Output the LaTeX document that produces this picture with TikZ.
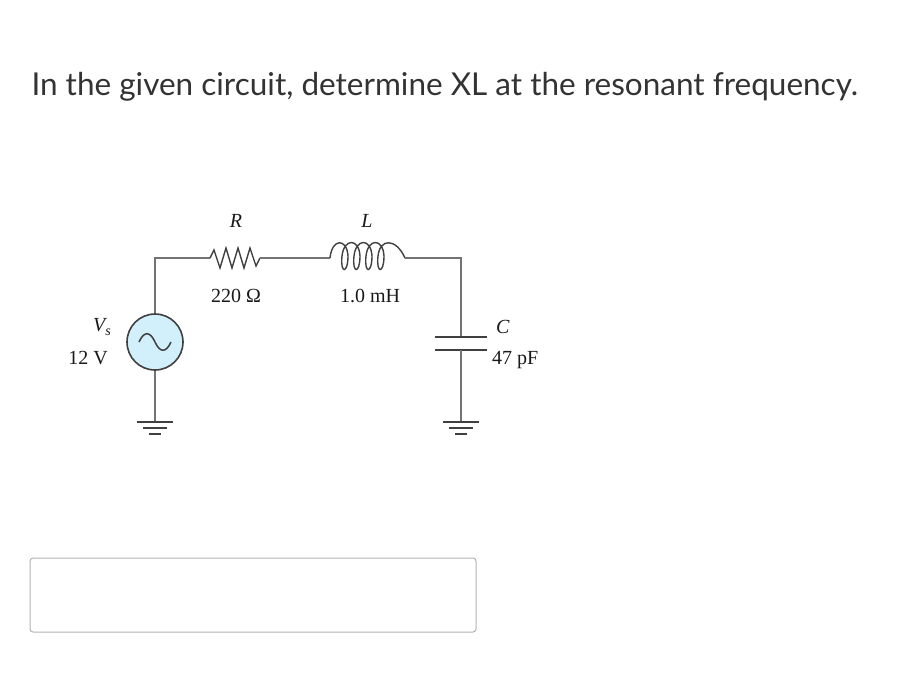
\documentclass[tikz,border=0pt]{standalone}
\usepackage{fontspec}
\setmainfont{Liberation Serif}
\newfontfamily\latofont{Lato}
\begin{document}
\begin{tikzpicture}[x=1pt,y=-1pt,
  wire/.style={draw=black!55,line width=1.1pt},
  part/.style={draw=black!75,line width=1.4pt},
  lbl/.style={font=\fontsize{20}{22}\selectfont,text=black!90,inner sep=0pt}]
\useasboundingbox (0,0) rectangle (916,688);
\node[anchor=west,font=\latofont\fontsize{31.5}{36}\selectfont,text=black!80] (title) at (28,87) {In the given circuit, determine XL at the resonant frequency.};
% wires
\coordinate (g1) at (155,422);
\coordinate (g2) at (461,422);
\coordinate (tl) at (155,258);
\coordinate (tr) at (461,258);
\node[circle,draw=black!75,line width=1.6pt,fill=cyan!18,minimum size=56pt,inner sep=0pt] (src) at (155,342) {};
\draw[wire] (src.north) -- (tl) -- (210,258);
\draw[wire] (src.south) -- (g1);
\draw[black!75,line width=1.5pt] (139,342) .. controls (144,331) and (150,331) .. (155,342) .. controls (160,353) and (166,353) .. (171,342);
% resistor
\draw[part] (210,258) -- (214,250) -- (220,268) -- (226,248) -- (232,268) -- (238,248) -- (244,268) -- (250,248) -- (256,266) -- (260,258);
\draw[wire] (260,258) -- (330,258);
% inductor
\draw[part] (330,258) .. controls (332,238) and (347,238) .. (348,256)
  .. controls (348,274) and (340,274) .. (342,256)
  .. controls (344,238) and (359,238) .. (360,256)
  .. controls (360,274) and (352,274) .. (354,256)
  .. controls (356,238) and (371,238) .. (372,256)
  .. controls (372,274) and (364,274) .. (366,256)
  .. controls (368,238) and (383,238) .. (384,256)
  .. controls (384,274) and (376,274) .. (378,256)
  .. controls (380,238) and (396,238) .. (405,258);
\draw[wire] (405,258) -- (tr) -- (461,337);
% capacitor
\draw[black!75,line width=2.4pt] (435,337) -- (487,337);
\draw[black!75,line width=2.4pt] (435,350) -- (487,350);
\draw[wire] (461,350) -- (g2);
% grounds
\foreach \g in {g1,g2}{
  \draw[black!75,line width=1.8pt] ([xshift=-18pt]\g) -- ([xshift=18pt]\g);
  \draw[black!75,line width=1.8pt] ([xshift=-12pt,yshift=-6pt]\g) -- ([xshift=12pt,yshift=-6pt]\g);
  \draw[black!75,line width=1.8pt] ([xshift=-6pt,yshift=-12pt]\g) -- ([xshift=6pt,yshift=-12pt]\g);
}
% labels
\node[lbl] (lR) at (236,221) {\textit{R}};
\node[lbl] (vR) at (236,296) {220 Ω};
\node[lbl] (lL) at (367,221) {\textit{L}};
\node[lbl] (vL) at (370,296) {1.0 mH};
\node[lbl] (lV) at (102,327) {\textit{V}\kern-2pt\raisebox{-4pt}{\fontsize{14}{16}\selectfont\textit{s}}};
\node[lbl] (vV) at (88,358) {12 V};
\node[lbl,anchor=west] (lC) at (496,327) {\textit{C}};
\node[lbl,anchor=west] (vC) at (492,360) {47 pF};
% answer box
\draw[black!30,line width=1pt,rounded corners=3pt] (30,558) rectangle (476,632);
\end{tikzpicture}
\end{document}
